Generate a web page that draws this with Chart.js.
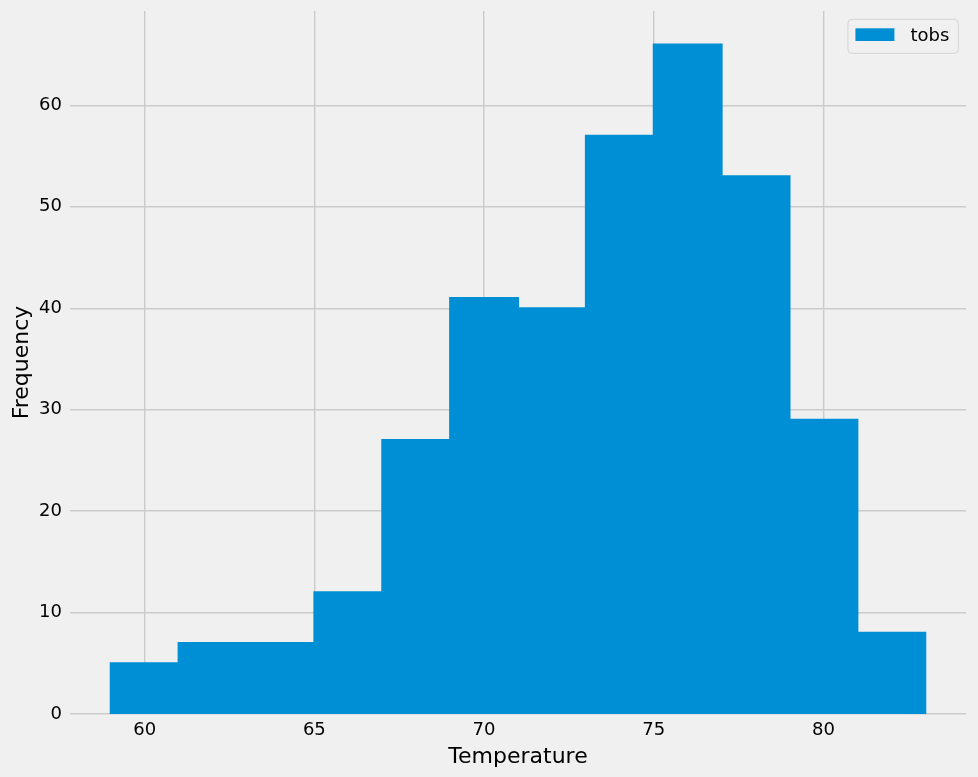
<!DOCTYPE html>
<html>
<head>
<meta charset="utf-8">
<title>tobs histogram</title>
<script src="https://cdn.jsdelivr.net/npm/chart.js@4.4.1/dist/chart.umd.min.js"></script>
<style>
  html, body { margin: 0; padding: 0; background: #f0f0f0; }
  #wrap { width: 978px; height: 777px; }
</style>
</head>
<body>
<div id="wrap"><canvas id="hist" width="978" height="777"></canvas></div>
<script>
// Histogram of temperature observations (12 bins, width 2).
const binEdges = [59, 61, 63, 65, 67, 69, 71, 73, 75, 77, 79, 81, 83];
const tobsCounts = [5, 7, 7, 12, 27, 41, 40, 57, 66, 53, 29, 8];
const xTicks = [60, 65, 70, 75, 80];
const yTicks = [0, 10, 20, 30, 40, 50, 60];
const seriesLabel = "tobs";

const X_MIN = 57.8, X_MAX = 84.2, Y_MAX = 69.3;
const BAR = "#008fd5", GRID = "#cbcbcb", TEXT = "#000000";
const FONT = "'DejaVu Sans', sans-serif";

const points = tobsCounts.map((n, i) => ({ x: (binEdges[i] + binEdges[i + 1]) / 2, y: n }));

// matplotlib-ish framed legend, top right inside the plot
const boxLegend = {
  id: "boxLegend",
  afterDraw(chart) {
    const { ctx, chartArea } = chart;
    const ds = chart.data.datasets[0];
    ctx.save();
    ctx.font = "18px " + FONT;
    const tw = ctx.measureText(ds.label).width;
    const w = 7.5 + 39 + 16 + tw + 9, h = 34;
    const x = chartArea.right - 7.7 - w, y = chartArea.top + 8.3;
    ctx.beginPath();
    ctx.roundRect(x, y, w, h, 4);
    ctx.fillStyle = "rgba(240,240,240,0.8)";
    ctx.fill();
    ctx.lineWidth = 1;
    ctx.strokeStyle = "rgba(204,204,204,0.8)";
    ctx.stroke();
    ctx.fillStyle = ds.backgroundColor;
    ctx.fillRect(x + 7.5, y + 9, 39, 12.7);
    ctx.fillStyle = TEXT;
    ctx.textBaseline = "middle";
    ctx.textAlign = "left";
    ctx.fillText(ds.label, x + 7.5 + 39 + 16, y + h / 2 + 0.5);
    ctx.restore();
  },
};

// keep the plot box fixed: no extra room reserved for edge tick labels
const noEdgePad = (s) => { s.paddingTop = 0; s.paddingBottom = 0; s.paddingLeft = 0; s.paddingRight = 0; };

new Chart(document.getElementById("hist"), {
  type: "bar",
  data: {
    datasets: [{
      label: seriesLabel,
      data: points,
      backgroundColor: BAR,
      borderWidth: 0,
      inflateAmount: 1,
      barPercentage: 1,
      categoryPercentage: 1,
    }],
  },
  options: {
    responsive: false,
    devicePixelRatio: 1,
    animation: false,
    layout: { padding: { left: 0, top: 11, right: 12, bottom: 0 } },
    plugins: { legend: { display: false }, tooltip: { enabled: false } },
    scales: {
      x: {
        type: "linear",
        min: X_MIN, max: X_MAX,
        offset: false,
        afterBuildTicks: (s) => { s.ticks = xTicks.map((v) => ({ value: v })); },
        afterFit: (s) => { s.height = 63; noEdgePad(s); },
        grid: { color: GRID, lineWidth: 1.4, drawTicks: false, offset: false },
        border: { display: false },
        ticks: { color: TEXT, padding: 6, font: { family: FONT, size: 18 } },
        title: { display: true, text: "Temperature", color: TEXT,
          font: { family: FONT, size: 22 }, padding: { top: 0, bottom: 7 } },
      },
      y: {
        min: 0, max: Y_MAX,
        afterBuildTicks: (s) => { s.ticks = yTicks.map((v) => ({ value: v })); },
        afterFit: (s) => { s.width = 70; noEdgePad(s); },
        grid: { color: GRID, lineWidth: 1.4, drawTicks: false },
        border: { display: false },
        ticks: { color: TEXT, padding: 8, font: { family: FONT, size: 18 } },
        title: { display: true, text: "Frequency", color: TEXT,
          font: { family: FONT, size: 22 }, padding: { top: 9, bottom: 0 } },
      },
    },
  },
  plugins: [boxLegend],
});
</script>
</body>
</html>
